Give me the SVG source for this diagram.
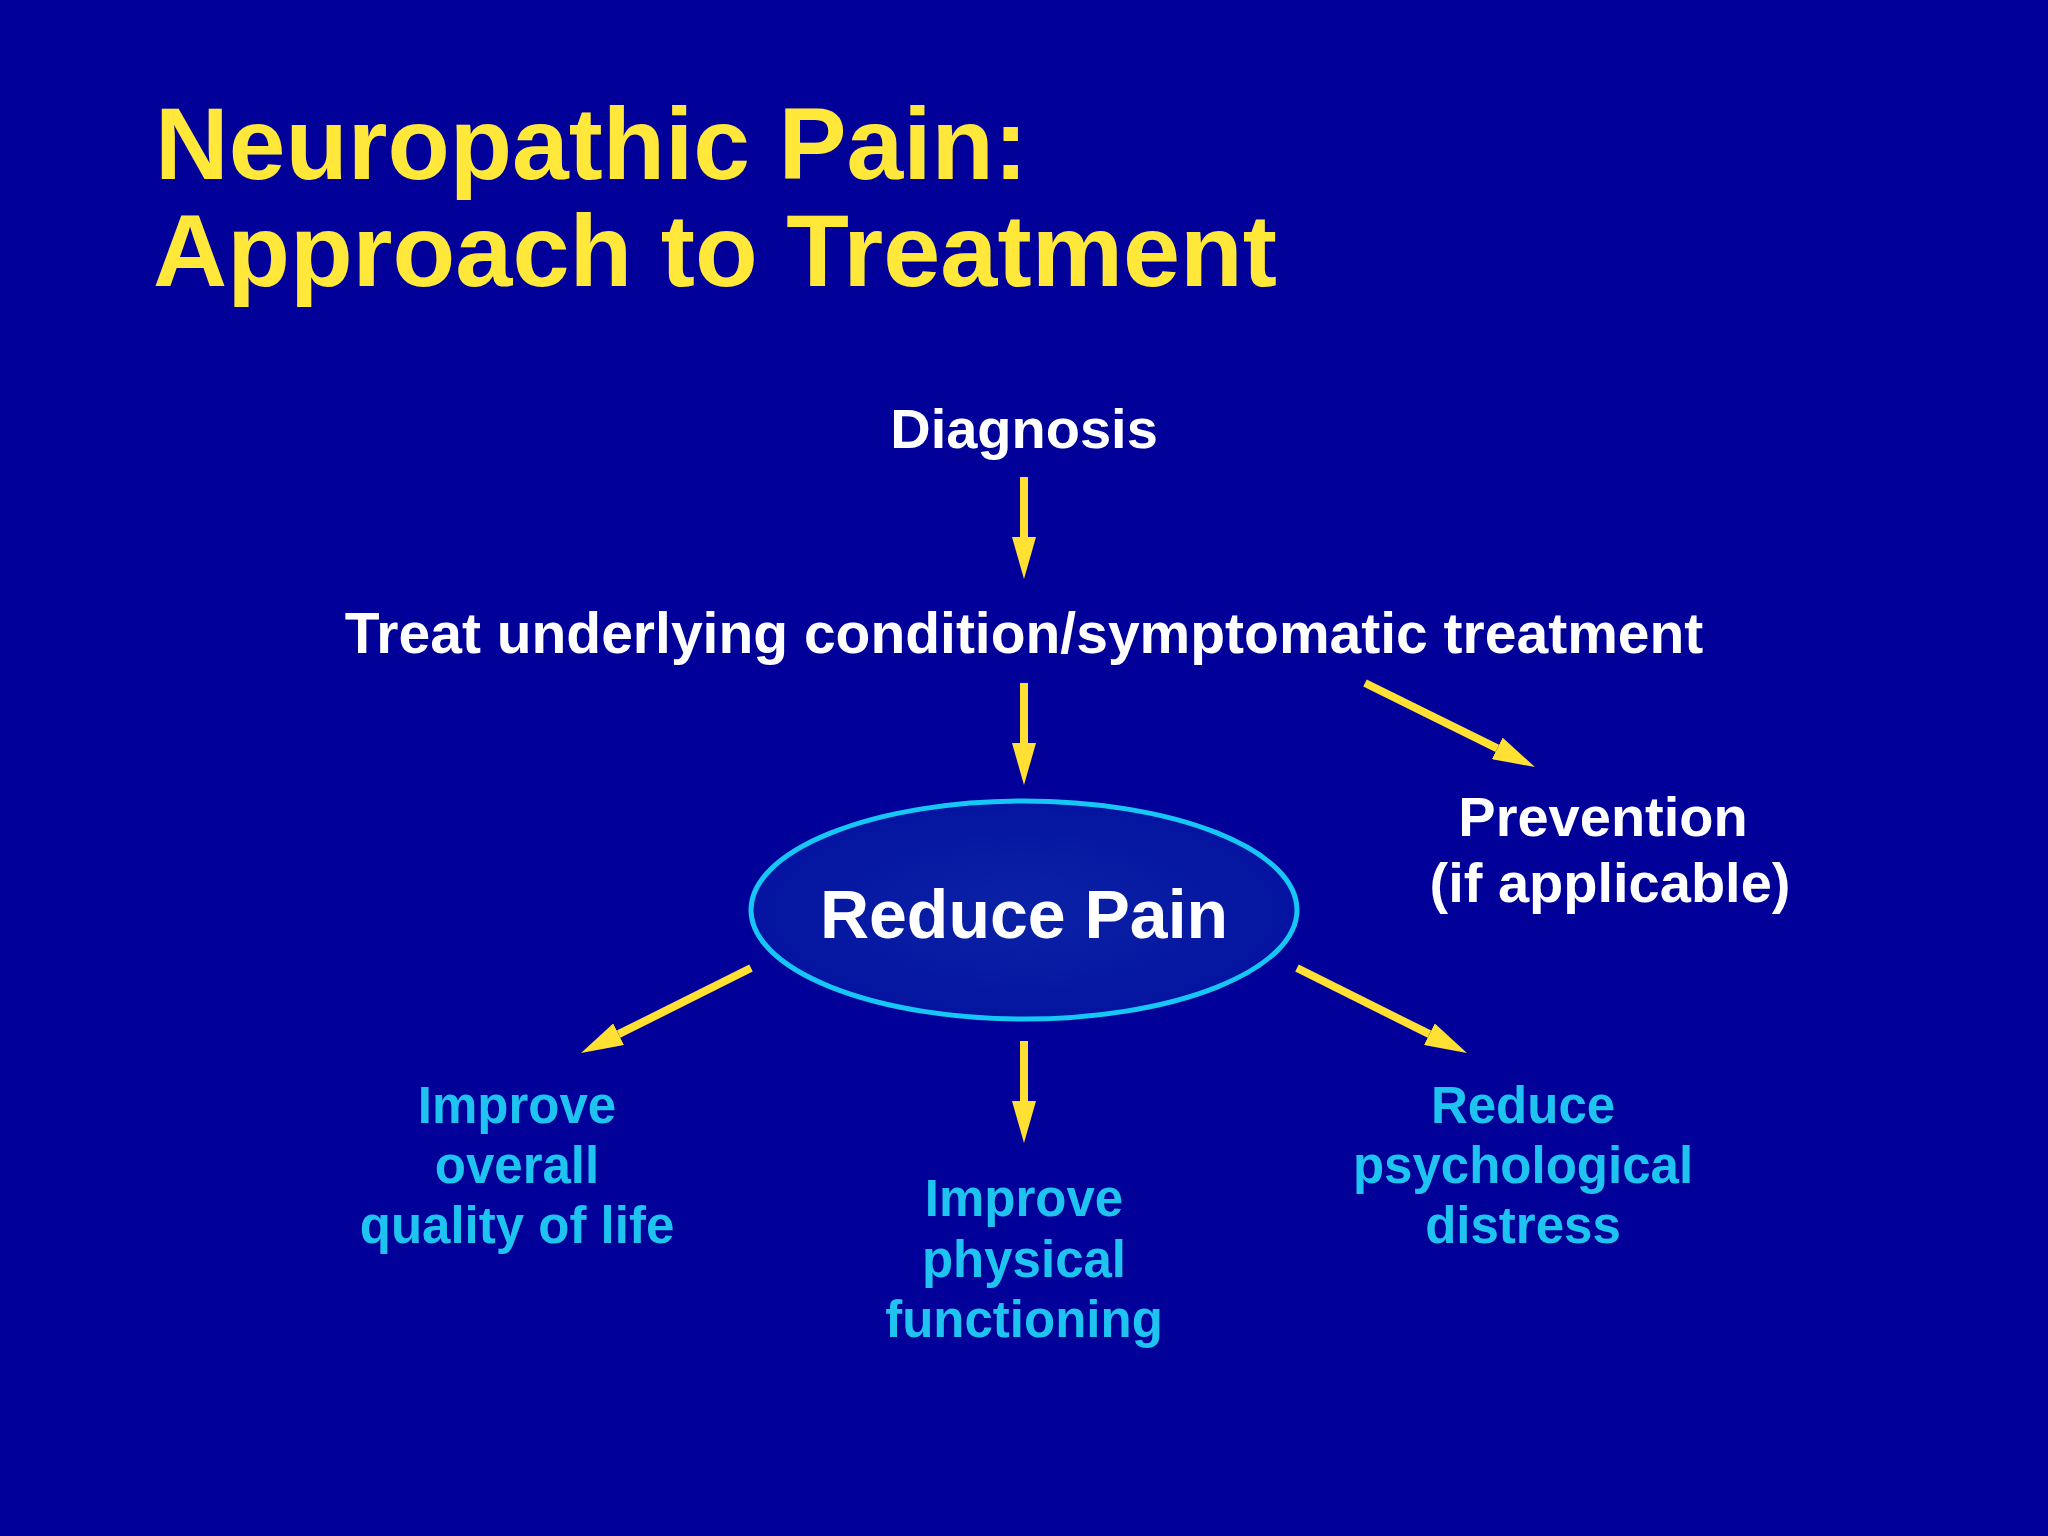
<svg xmlns="http://www.w3.org/2000/svg" width="2048" height="1536" viewBox="0 0 2048 1536">
<defs>
<style>
.title{font-family:"Liberation Sans",Arial,sans-serif;font-weight:bold;font-size:102px;fill:#FFE83A}
.w{font-family:"Liberation Sans",Arial,sans-serif;font-weight:bold;font-size:56px;fill:#FFFFFF;text-anchor:middle}
.c{font-family:"Liberation Sans",Arial,sans-serif;font-weight:bold;font-size:51px;fill:#1EC3F0;text-anchor:middle}
.arr{stroke:#FFE033;stroke-width:8;fill:none;marker-end:url(#ah)}
</style>
<marker id="ah" markerUnits="userSpaceOnUse" markerWidth="42" markerHeight="24" refX="0" refY="12" orient="auto">
<path d="M0,0 L42,12 L0,24 Z" fill="#FFE033"/>
</marker>
<radialGradient id="eg" cx="0.5" cy="0.5" r="0.5">
<stop offset="0" stop-color="#0A22A6"/>
<stop offset="1" stop-color="#0414A0"/>
</radialGradient>
</defs>
<rect width="2048" height="1536" fill="#010099"/>
<g id="title">
<text class="title" x="155" y="179">Neuropathic Pain:</text>
<text class="title" x="153" y="286" textLength="1124" lengthAdjust="spacingAndGlyphs">Approach to Treatment</text>
</g>
<g id="connectors">
<line class="arr" x1="1024" y1="477" x2="1024" y2="537"/>
<line class="arr" x1="1024" y1="683" x2="1024" y2="743"/>
<line class="arr" x1="1365" y1="683" x2="1497.3" y2="748.4"/>
<line class="arr" x1="751" y1="968" x2="618.6" y2="1034.2"/>
<line class="arr" x1="1297" y1="968" x2="1429.4" y2="1034.2"/>
<line class="arr" x1="1024" y1="1041" x2="1024" y2="1101"/>
</g>
<g id="diagnosis">
<text class="w" x="1024" y="448">Diagnosis</text>
</g>
<g id="treat">
<text class="w" x="1024" y="653" style="font-size:57px">Treat underlying condition/symptomatic treatment</text>
</g>
<g id="prevention">
<text class="w" x="1603" y="836">Prevention</text>
<text class="w" x="1610" y="902">(if applicable)</text>
</g>
<g id="reduce-pain">
<ellipse cx="1024" cy="910" rx="273" ry="109" fill="url(#eg)" stroke="#16C6F4" stroke-width="5"/>
<text class="w" x="1024" y="938" style="font-size:68px">Reduce Pain</text>
</g>
<g id="quality">
<text class="c" x="517" y="1123">Improve</text>
<text class="c" x="517" y="1183">overall</text>
<text class="c" x="517" y="1243">quality of life</text>
</g>
<g id="physical">
<text class="c" x="1024" y="1216">Improve</text>
<text class="c" x="1024" y="1277">physical</text>
<text class="c" x="1024" y="1337">functioning</text>
</g>
<g id="distress">
<text class="c" x="1523" y="1123">Reduce</text>
<text class="c" x="1523" y="1183">psychological</text>
<text class="c" x="1523" y="1243">distress</text>
</g>
</svg>
